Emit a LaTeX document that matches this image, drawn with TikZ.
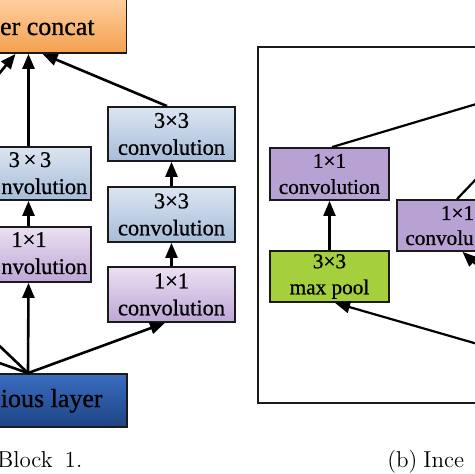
\documentclass[tikz,border=0pt]{standalone}
\usepackage{fontspec}
\newfontfamily\tfont[FakeBold=0.8]{Liberation Serif}
\usetikzlibrary{arrows.meta,shadings,calc}
\definecolor{orT}{HTML}{FFCFA0}
\definecolor{orB}{HTML}{F4A04E}
\definecolor{blT}{HTML}{DCE5F1}
\definecolor{blB}{HTML}{A6BCD9}
\definecolor{puT}{HTML}{EBE0F2}
\definecolor{puB}{HTML}{BEA6D6}
\definecolor{dbT}{HTML}{3A6CC0}
\definecolor{dbB}{HTML}{1E4585}
\definecolor{puF}{HTML}{B8A2D4}
\definecolor{grF}{HTML}{A5CF3C}
\definecolor{edge}{HTML}{1A1A1A}
\begin{document}
\begin{tikzpicture}[x=0.5pt,y=-0.5pt,
  box/.style={draw=edge,line width=0.9pt,inner sep=0pt,align=center},
  bigtxt/.style={font=\tfont\fontsize{13}{15.6}\selectfont,inner sep=0pt},
  midtxt/.style={font=\tfont\fontsize{11.2}{13.5}\selectfont,align=center},
  smtxt/.style={font=\tfont\fontsize{10.6}{13}\selectfont,align=center},
  captxt/.style={font=\fontsize{11.5}{13.8}\selectfont,inner sep=0pt},
  arr/.style={line width=1.3pt,-{Triangle[width=6pt,length=7.5pt]}},
  ln/.style={line width=1.3pt},
  concbox/.style={box,top color=orT,bottom color=orB},
  bluebox/.style={box,top color=blT,bottom color=blB},
  purpbox/.style={box,top color=puT,bottom color=puB},
  prevbox/.style={box,top color=dbT,bottom color=dbB},
  flatpurp/.style={box,fill=puF},
  greenbox/.style={box,fill=grF},
]
\useasboundingbox (0,0) rectangle (474,474);
\fill[white] (0,0) rectangle (474,474);

% ---------------- left panel ----------------
\node[concbox,minimum width=98pt,minimum height=27pt] (concat) at (28.5,26) {};
\node[bigtxt,anchor=base east] (concatlbl) at (95,35) {er concat};

\node[bluebox,minimum width=62.5pt,minimum height=26.5pt] (lc3) at (28.5,173.5) {};
\node[midtxt,anchor=base,inner sep=0pt] (lc3a) at (30,167) {3\,×\,3};
\node[midtxt,anchor=base west,inner sep=0pt] (lc3b) at (1,194) {nvolution};

\node[purpbox,minimum width=62.5pt,minimum height=27.5pt] (lc1) at (28.5,254.5) {};
\node[midtxt,anchor=base,inner sep=0pt] (lc1a) at (29,247) {1×1};
\node[midtxt,anchor=base west,inner sep=0pt] (lc1b) at (1,274) {nvolution};

\node[prevbox,minimum width=99pt,minimum height=26.5pt] (prev) at (28,400.5) {};
\node[bigtxt,anchor=base east] (prevlbl) at (103,407) {ious layer};

\node[bluebox,minimum width=63.5pt,minimum height=27pt,midtxt] (rc3a) at (171.5,134) {3×3\\convolution};
\node[bluebox,minimum width=63.5pt,minimum height=27.5pt,midtxt] (rc3b) at (171.5,214.5) {3×3\\convolution};
\node[purpbox,minimum width=63.5pt,minimum height=27.5pt,midtxt] (rc1) at (171.5,294.5) {1×1\\convolution};

\coordinate (cL1) at (-100,251);
\coordinate (cL2) at (-100,328);
\coordinate (cL3) at (-60,145);

\draw[arr] (prev.north) -- (lc1.south);
\draw[arr] (prev.north) -- ([xshift=-3.25pt]rc1.south);
\draw[ln] (prev.north) -- (cL1);
\draw[ln] (prev.north) -- (cL2);
\draw[arr] (lc1.north) -- (lc3.south);
\draw[arr] (lc3.north) -- (concat.south);
\draw[arr] (rc1.north) -- (rc3b.south);
\draw[arr] (rc3b.north) -- (rc3a.south);
\draw[arr] ([xshift=-2.25pt]rc3a.north) -- ([xshift=7pt]concat.south);
\draw[arr] (cL3) -- ([xshift=-6.5pt]concat.south);

\node[captxt,anchor=base west] (capA) at (-3,467) {Block\hspace{6pt}1.};

% ---------------- right panel ----------------
\draw[line width=1pt,draw=edge] (258,47) rectangle (560,403);

\node[flatpurp,minimum width=59.5pt,minimum height=26pt,smtxt] (pa) at (329.5,174) {1×1\\convolution};
\node[greenbox,minimum width=59.5pt,minimum height=25.5pt,smtxt] (pmax) at (329.5,276.5) {3×3\\max pool};
\node[flatpurp,minimum width=61.5pt,minimum height=25.5pt] (pb) at (458.5,225.5) {};
\node[smtxt,anchor=base,inner sep=0pt] (pba) at (457.5,220) {1×1};
\node[smtxt,anchor=base west,inner sep=0pt] (pbb) at (405,245) {convolu};

\coordinate (cA) at (540,85);
\coordinate (cB) at (500,154);
\coordinate (cC) at (540,362);
\coordinate (cD) at (520,305);

\draw[ln,line width=1.1pt] ([xshift=1.25pt]pa.north) -- (cA);
\draw[ln,line width=1.1pt] ([xshift=-0.75pt]pb.north) -- (cB);
\draw[arr,line width=1.1pt] (pmax.north) -- (pa.south);
\draw[arr,line width=1.1pt] (cC) -- ([xshift=2.75pt]pmax.south);
\draw[arr,line width=1.1pt] (cD) -- ([xshift=2pt]pb.south);

\node[captxt,anchor=base west] (capB) at (387,467) {(b)\hspace{3pt}Ince};
\end{tikzpicture}
\end{document}
